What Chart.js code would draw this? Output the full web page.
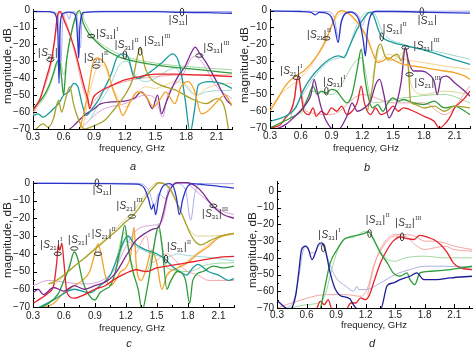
<!DOCTYPE html>
<html>
<head>
<meta charset="utf-8">
<script src="https://cdn.jsdelivr.net/npm/chart.js@4.4.1/dist/chart.umd.min.js"></script>
<style>
  body { margin: 0; width: 474px; height: 347px; position: relative; overflow: hidden; background: #fff;
         font-family: "Liberation Sans", Arial, sans-serif; color: #222; }
  canvas { position: absolute; }
  .yt { position: absolute; font-size: 10.5px; white-space: nowrap; transform: translate(-50%, -50%) rotate(-90deg) scaleX(1.12); }
  .xt { position: absolute; font-size: 9.6px; white-space: nowrap; transform: translate(-50%, -50%); }
  .pl { position: absolute; font-size: 11px; font-style: italic; transform: translate(-50%, -50%); }
</style>
</head>
<body>
<canvas id="pa" width="237" height="172" style="left:0;top:0"></canvas>
<canvas id="pb" width="237" height="172" style="left:237px;top:0"></canvas>
<canvas id="pc" width="237" height="175" style="left:0;top:172px"></canvas>
<canvas id="pd" width="237" height="175" style="left:237px;top:172px"></canvas>

<div class="yt" style="left:7px;top:66px">magnitude, dB</div>
<div class="xt" style="left:132px;top:147px">frequency, GHz</div>
<div class="pl" style="left:133px;top:166px">a</div>
<div class="yt" style="left:244px;top:65px">magnitude, dB</div>
<div class="xt" style="left:366px;top:147px">frequency, GHz</div>
<div class="pl" style="left:367px;top:167px">b</div>
<div class="yt" style="left:7px;top:240px">magnitude, dB</div>
<div class="xt" style="left:132px;top:327px">frequency, GHz</div>
<div class="pl" style="left:129px;top:343px">c</div>
<div class="yt" style="left:252px;top:250px">magnitude, dB</div>
<div class="xt" style="left:374px;top:324px">frequency, GHz</div>
<div class="pl" style="left:372px;top:343px">d</div>

<script>
// ---- data: [frequency GHz, magnitude dB] ----

// a: measured
var aS11 = [[0.3,-0.5],[0.45,-0.6],[0.5,-1.2],[0.53,-4],[0.545,-15],[0.555,-43],[0.565,-12],[0.58,-3],[0.6,-1.5],[0.65,-0.8],[0.7,-1.5],[0.725,-6],[0.74,-20],[0.748,-28],[0.757,-12],[0.775,-3],[0.8,-1],[1.0,-0.5],[1.5,-0.6],[1.75,-1],[2.0,-1.2],[2.25,-1.5]];
var aS21I = [[0.3,-59],[0.37,-52],[0.43,-40],[0.48,-29],[0.51,-18],[0.535,-5],[0.55,-1],[0.565,-0.5],[0.58,-2],[0.61,-6.5],[0.66,-14],[0.71,-23],[0.76,-35],[0.81,-47],[0.84,-53],[0.855,-58],[0.89,-51.5],[0.95,-48],[1.08,-44],[1.2,-41],[1.35,-39],[1.5,-37.5],[1.7,-37.5],[1.9,-38],[2.1,-38.5],[2.25,-39]];
var aS31I = [[0.3,-58],[0.4,-51],[0.46,-44],[0.5,-37],[0.53,-31],[0.56,-29],[0.58,-40],[0.6,-50],[0.615,-40],[0.63,-29],[0.68,-12],[0.72,-3],[0.755,0],[0.79,-7],[0.84,-13],[0.9,-17],[1.0,-22.5],[1.13,-27],[1.3,-30],[1.6,-33],[1.95,-35],[2.25,-37]];
var aS21II = [[0.75,-72],[0.8,-60],[0.84,-48],[0.87,-36],[0.9,-29],[0.93,-28],[0.97,-29],[1.0,-31],[1.03,-35],[1.08,-46],[1.13,-54],[1.18,-62],[1.22,-58],[1.27,-52],[1.32,-48],[1.4,-50],[1.48,-57],[1.55,-52],[1.6,-48],[1.69,-55],[1.75,-45],[1.82,-42],[1.88,-47],[1.95,-61],[2.02,-59],[2.1,-54],[2.18,-50],[2.25,-56]];
var aS21III = [[0.3,-72],[0.4,-67],[0.45,-69],[0.5,-64],[0.55,-53],[0.58,-60],[0.62,-52],[0.66,-45],[0.7,-56],[0.75,-65],[0.8,-70],[0.9,-68],[1.0,-65],[1.1,-58],[1.2,-50],[1.28,-40],[1.32,-28],[1.35,-22],[1.37,-26],[1.4,-34],[1.45,-40],[1.55,-44],[1.7,-47],[1.85,-52],[2.0,-55],[2.1,-52],[2.18,-58],[2.22,-72]];
var aS31II = [[0.3,-62],[0.35,-61],[0.4,-63],[0.45,-61],[0.5,-58],[0.55,-55],[0.6,-50],[0.65,-48],[0.7,-43],[0.74,-45],[0.78,-55],[0.82,-62],[0.88,-58],[0.95,-52],[1.0,-46],[1.07,-37],[1.12,-28],[1.18,-25.5],[1.23,-27],[1.28,-38],[1.33,-40],[1.43,-37],[1.56,-31],[1.67,-25.5],[1.74,-33],[1.79,-52],[1.84,-72],[1.88,-60],[1.92,-44],[2.03,-42],[2.15,-43],[2.25,-46]];
var aS31III = [[0.62,-72],[0.7,-68],[0.8,-62],[0.9,-58],[0.95,-55.5],[1.07,-54],[1.2,-53.5],[1.3,-51.5],[1.36,-48],[1.42,-52],[1.47,-58],[1.52,-50],[1.56,-61],[1.6,-55],[1.66,-46],[1.73,-38],[1.79,-33],[1.85,-25],[1.89,-21.5],[1.93,-25],[2.0,-31],[2.1,-42],[2.2,-53],[2.25,-56]];
// a: simulated
var aS11s = [[0.3,-0.3],[0.52,-1],[0.55,-6],[0.575,-30],[0.59,-8],[0.62,-1],[0.64,-3],[0.655,-5],[0.67,-2],[0.7,-0.5],[0.73,-3],[0.765,-22],[0.78,-5],[0.82,-1],[1.0,-0.3],[2.25,-0.5]];
var aS21Is = [[0.3,-62],[0.4,-47],[0.48,-31],[0.52,-15],[0.55,-3],[0.58,-0.5],[0.62,-6],[0.68,-18],[0.74,-33],[0.8,-48],[0.86,-56],[0.92,-52],[1.0,-47],[1.2,-42],[1.5,-39],[1.8,-38],[2.25,-38]];
var aS31Is = [[0.3,-60],[0.45,-47],[0.53,-33],[0.57,-30],[0.6,-38],[0.64,-25],[0.7,-8],[0.76,-1],[0.82,-8],[0.9,-16],[1.0,-21],[1.2,-27],[1.5,-31],[1.8,-33],[2.25,-35]];
var aS21IIs = [[0.78,-72],[0.85,-50],[0.9,-38],[0.95,-32],[1.0,-33],[1.05,-40],[1.1,-48],[1.2,-57],[1.3,-50],[1.4,-45],[1.5,-46],[1.6,-44],[1.7,-42],[1.8,-44],[1.9,-50],[2.0,-46],[2.1,-44],[2.25,-43]];
var aS31IIs = [[0.85,-65],[0.95,-55],[1.05,-45],[1.15,-32],[1.22,-30],[1.3,-38],[1.4,-42],[1.5,-40],[1.6,-36],[1.7,-34],[1.8,-45],[1.9,-50],[2.0,-48],[2.25,-47]];
var aS31IIIs = [[0.8,-68],[0.9,-62],[1.0,-58],[1.2,-55],[1.4,-50],[1.5,-52],[1.57,-63],[1.62,-50],[1.75,-40],[1.88,-27],[1.95,-30],[2.1,-45],[2.25,-52]];

// b: measured
var bS11 = [[0.3,-0.3],[0.6,-0.5],[0.7,-1],[0.74,-2.5],[0.78,-1],[0.85,-1.5],[0.9,-4],[0.93,-10],[0.965,-19],[0.99,-8],[1.03,-2],[1.08,-0.8],[1.12,-1.5],[1.17,-6],[1.21,-18],[1.23,-27],[1.25,-12],[1.28,-3],[1.33,-0.5],[1.5,-0.5],[1.85,-1],[2.25,-1.5]];
var bS21II = [[0.3,-60],[0.36,-54],[0.46,-44],[0.55,-39],[0.63,-36],[0.72,-30],[0.79,-24],[0.85,-17],[0.9,-9],[0.95,-2],[1.0,0],[1.05,-1],[1.1,-3.5],[1.18,-9],[1.25,-16.5],[1.3,-25],[1.35,-31],[1.4,-30],[1.45,-28],[1.52,-30],[1.6,-32],[1.7,-33],[1.8,-34],[1.9,-35],[2.0,-36],[2.1,-37],[2.2,-39],[2.25,-41]];
var bS31II = [[0.3,-66],[0.45,-63],[0.55,-58],[0.62,-48],[0.7,-40],[0.8,-33],[0.88,-29],[0.97,-27],[1.02,-28],[1.07,-22],[1.15,-11],[1.22,-4],[1.27,-1],[1.31,-3],[1.36,-12],[1.39,-15.5],[1.5,-19],[1.63,-21],[1.83,-24],[2.03,-28],[2.25,-32]];
var bS31III = [[0.3,-72],[0.45,-68],[0.56,-62],[0.66,-55],[0.7,-50],[0.73,-41],[0.76,-48],[0.8,-58],[0.85,-66],[0.95,-72],[1.05,-63],[1.1,-55],[1.15,-60],[1.22,-58],[1.28,-54],[1.33,-44],[1.37,-41],[1.41,-50],[1.46,-64],[1.5,-60],[1.54,-54],[1.58,-42],[1.62,-22],[1.65,-30],[1.7,-36],[1.78,-36],[1.85,-38],[1.9,-42],[1.93,-50],[1.97,-40],[2.02,-39],[2.1,-43],[2.18,-47],[2.25,-51]];
var bS21III = [[1.25,-60],[1.3,-45],[1.34,-25],[1.38,-20],[1.42,-27],[1.46,-29],[1.5,-27],[1.54,-26],[1.58,-30],[1.62,-22],[1.65,-35],[1.67,-54],[1.72,-56],[1.8,-58],[1.9,-57],[2.0,-60],[2.1,-57],[2.25,-58]];
var bS31I = [[0.3,-70],[0.4,-67],[0.5,-64],[0.6,-60],[0.67,-52],[0.72,-45],[0.76,-50],[0.8,-48],[0.85,-49],[0.9,-47],[0.95,-48],[1.0,-52],[1.05,-55],[1.1,-50],[1.15,-35],[1.19,-23],[1.22,-38],[1.26,-52],[1.3,-58],[1.35,-56],[1.4,-60],[1.45,-55],[1.5,-52],[1.55,-54],[1.6,-53],[1.7,-55],[1.8,-56],[1.9,-54],[2.0,-58],[2.1,-57],[2.2,-60],[2.25,-62]];
var bS21I = [[0.3,-70],[0.4,-68],[0.45,-64],[0.5,-60],[0.54,-52],[0.56,-42],[0.58,-39],[0.6,-48],[0.63,-60],[0.68,-62],[0.72,-58],[0.75,-63],[0.8,-60],[0.85,-62],[0.9,-58],[0.95,-60],[1.0,-57],[1.05,-62],[1.1,-60],[1.15,-55],[1.19,-45],[1.22,-55],[1.28,-62],[1.33,-58],[1.38,-62],[1.45,-60],[1.5,-57],[1.55,-60],[1.6,-58],[1.7,-60],[1.8,-63],[1.9,-66],[1.95,-70],[2.0,-68],[2.05,-64],[2.1,-58],[2.15,-55],[2.2,-52],[2.25,-48]];
// b: simulated
var bS11s = [[0.3,-0.2],[0.85,-0.5],[0.92,-3],[0.97,-16],[1.0,-6],[1.05,-1],[1.12,-1],[1.17,-4],[1.2,-9],[1.23,-4],[1.27,-1],[1.35,-0.3],[2.25,-0.3]];
var bS21IIs = [[0.3,-58],[0.4,-50],[0.5,-45],[0.6,-40],[0.7,-33],[0.8,-22],[0.88,-12],[0.95,-4],[1.02,-1],[1.1,-3],[1.2,-12],[1.28,-22],[1.35,-30],[1.45,-26],[1.6,-29],[1.8,-31],[2.0,-33],[2.25,-35]];
var bS31IIs = [[0.5,-62],[0.62,-50],[0.75,-38],[0.88,-30],[0.98,-28],[1.05,-25],[1.15,-8],[1.25,-1],[1.32,-2],[1.4,-13],[1.6,-20],[1.9,-24],[2.25,-29]];
var bS21IIIs = [[1.3,-40],[1.38,-22],[1.45,-30],[1.54,-28],[1.62,-24],[1.68,-45],[1.8,-50],[2.0,-48],[2.25,-50]];
var bS21Is = [[0.5,-65],[0.58,-42],[0.65,-60],[0.9,-62],[1.2,-50],[1.5,-55],[1.8,-55],[2.0,-62],[2.25,-45]];
var bS31Is = [[0.6,-62],[0.72,-48],[0.9,-50],[1.19,-28],[1.3,-55],[1.6,-52],[2.0,-50],[2.25,-55]];

// c: measured
var cS11 = [[0.3,-0.3],[1.0,-0.5],[1.3,-0.8],[1.38,-3],[1.42,-9],[1.45,-15],[1.47,-12],[1.49,-18],[1.52,-8],[1.56,-2],[1.62,-0.5],[1.66,-2],[1.69,-8],[1.72,-18],[1.75,-10],[1.79,-3],[1.85,-0.5],[1.95,-1],[2.1,-2],[2.25,-3]];
var cS21III = [[0.45,-57],[0.5,-56],[0.62,-51],[0.72,-46],[0.82,-41.5],[0.95,-35],[1.05,-30],[1.11,-27],[1.2,-22],[1.26,-19],[1.32,-15],[1.37,-10.5],[1.42,-6],[1.47,-2.5],[1.52,0],[1.57,-0.5],[1.63,-3.3],[1.69,-10.5],[1.76,-19.7],[1.82,-28],[1.88,-33.5],[1.93,-35],[2.02,-32.5],[2.12,-30],[2.25,-28.5]];
var cS31III = [[0.3,-62],[0.35,-60],[0.4,-63],[0.5,-59],[0.6,-61],[0.7,-58],[0.8,-60],[0.9,-58],[1.0,-56],[1.1,-51],[1.2,-41.5],[1.3,-32.5],[1.4,-28],[1.47,-26],[1.52,-25],[1.56,-18],[1.6,-8],[1.65,-2],[1.7,0],[1.8,0],[1.88,-2],[1.95,-6],[2.0,-10],[2.05,-13.5],[2.15,-18],[2.25,-20]];
var cS21I = [[0.3,-68],[0.38,-65],[0.45,-62],[0.5,-58],[0.53,-45],[0.545,-35],[0.56,-38],[0.58,-34],[0.6,-45],[0.63,-62],[0.7,-65],[0.8,-63],[0.9,-60],[1.0,-58],[1.1,-54],[1.2,-51],[1.3,-49],[1.4,-50],[1.5,-48],[1.6,-47],[1.7,-46],[1.8,-45],[1.9,-44],[2.0,-43],[2.1,-42],[2.25,-41.5]];
var cS31I = [[0.3,-72],[0.45,-68],[0.55,-62],[0.6,-55],[0.65,-48],[0.7,-39],[0.73,-42],[0.78,-55],[0.83,-62],[0.9,-66],[0.95,-62],[1.0,-60],[1.05,-58],[1.1,-50],[1.15,-36],[1.19,-24],[1.22,-35],[1.27,-50],[1.32,-60],[1.36,-72],[1.4,-62],[1.45,-45],[1.49,-30],[1.52,-24],[1.55,-35],[1.6,-60],[1.63,-56],[1.7,-50],[1.78,-55],[1.82,-68],[1.85,-55],[1.95,-50],[2.05,-47],[2.15,-48],[2.25,-47]];
var cS31II = [[0.3,-72],[0.5,-66],[0.7,-60],[0.85,-62],[0.95,-58],[1.05,-52],[1.12,-42],[1.18,-33],[1.22,-30],[1.28,-34],[1.4,-38],[1.5,-40],[1.58,-43],[1.65,-47],[1.72,-50],[1.79,-52],[1.85,-48],[1.9,-46],[2.0,-50],[2.1,-52],[2.2,-55],[2.25,-54]];
var cS21II = [[0.3,-72],[0.5,-68],[0.6,-62],[0.7,-58],[0.78,-55],[0.85,-50],[0.9,-40],[0.93,-34.5],[0.96,-40],[1.0,-52],[1.05,-58],[1.1,-55],[1.15,-50],[1.2,-48],[1.25,-40],[1.28,-25],[1.3,-45],[1.35,-55],[1.4,-48],[1.45,-38],[1.5,-45],[1.55,-60],[1.6,-52],[1.7,-48],[1.8,-45],[1.9,-40],[2.0,-36],[2.1,-31],[2.2,-29],[2.25,-28.5]];
// c: simulated
var cS11s = [[0.3,-0.2],[1.3,-0.3],[1.42,-4],[1.48,-13],[1.52,-6],[1.56,-8],[1.59,-9],[1.62,-2],[1.7,-0.5],[1.78,-4],[1.83,-21],[1.87,-6],[1.92,-0.5],[2.25,-0.5]];
var cS21IIIs = [[0.5,-58],[0.8,-42],[1.1,-26],[1.3,-14],[1.45,-2],[1.5,0],[1.6,-2],[1.7,-12],[1.8,-25],[1.9,-30],[2.0,-30],[2.25,-29]];
var cS31IIIs = [[0.3,-58],[0.45,-55],[0.6,-56],[0.8,-57],[1.0,-54],[1.1,-48],[1.2,-36],[1.3,-27],[1.45,-24],[1.55,-22],[1.62,-5],[1.68,0],[1.78,0],[1.85,-3],[1.95,-8],[2.1,-15],[2.25,-18]];
var cS31IIs = [[1.1,-50],[1.2,-33],[1.3,-36],[1.45,-40],[1.6,-42],[1.7,-40],[1.8,-41],[2.0,-42],[2.25,-44]];
var cS21Is = [[1.3,-40],[1.4,-30],[1.45,-45],[1.6,-40],[1.7,-45],[1.8,-50],[1.9,-52],[2.0,-55],[2.25,-55]];
var cS21IIs = [[1.6,-60],[1.7,-50],[1.8,-44],[1.95,-37],[2.1,-31],[2.25,-29]];
var cS31Is = [[1.1,-45],[1.19,-28],[1.25,-45],[1.4,-50],[1.52,-27],[1.6,-48],[1.8,-50],[2.0,-46],[2.25,-45]];

// d: measured
var dS31I = [[0.3,-65.5],[0.43,-71],[0.49,-62.5],[0.52,-49],[0.55,-35],[0.59,-33],[0.62,-35],[0.655,-41],[0.69,-37],[0.72,-32],[0.755,-31],[0.79,-35],[0.84,-49],[0.89,-58.5],[0.94,-62.5],[1.04,-64.5],[1.07,-67.5],[1.13,-71],[1.35,-71],[1.42,-56.5],[1.48,-55],[1.55,-53],[1.65,-51],[1.72,-49],[1.79,-53],[1.92,-53],[2.06,-52],[2.28,-51]];
var dS21II = [[0.74,-71],[0.79,-56.5],[0.84,-43],[0.91,-35],[0.98,-29],[1.04,-27.5],[1.11,-26.5],[1.18,-25.5],[1.23,-24.5],[1.28,-29],[1.35,-37],[1.42,-43],[1.48,-49],[1.55,-51],[1.62,-49],[1.65,-53],[1.7,-56],[1.75,-49],[1.86,-48],[2.06,-47],[2.28,-45]];
var dS32III = [[0.7,-71],[0.74,-66],[0.78,-68],[0.82,-65],[0.86,-71],[1.0,-71],[1.05,-67],[1.1,-67],[1.15,-64],[1.2,-65],[1.24,-62],[1.28,-55],[1.35,-43],[1.42,-35],[1.48,-30],[1.55,-27.5],[1.62,-28.5],[1.69,-29],[1.75,-26.5],[1.82,-27.5],[1.89,-29],[1.96,-32],[2.03,-37],[2.09,-43],[2.16,-46],[2.28,-47]];
// d: simulated
var dS31Is = [[0.3,-71],[0.45,-68],[0.52,-52],[0.56,-37],[0.6,-33],[0.64,-37],[0.68,-37],[0.72,-33],[0.76,-32],[0.8,-38],[0.85,-46],[0.9,-52],[1.0,-57],[1.08,-60],[1.11,-57],[1.13,-59],[1.2,-59],[1.35,-55],[1.5,-50],[1.65,-47],[1.8,-45],[2.0,-45],[2.28,-45.5]];
var dS21IIs = [[0.3,-72],[0.6,-68],[0.75,-66],[0.8,-60],[0.85,-48],[0.92,-35],[1.0,-28],[1.05,-28],[1.1,-27],[1.2,-24],[1.26,-26],[1.32,-33],[1.4,-40],[1.5,-42],[1.6,-40],[1.8,-39],[2.0,-40],[2.28,-40]];
var dS32IIIs = [[0.3,-70],[0.5,-66],[0.8,-62],[1.0,-62],[1.15,-63],[1.22,-58],[1.28,-45],[1.35,-36],[1.42,-30],[1.5,-27],[1.6,-27],[1.7,-32],[1.8,-35],[1.9,-34],[2.0,-33],[2.1,-35],[2.28,-36]];
var dS32IIIs2 = [[1.22,-62],[1.3,-42],[1.4,-30],[1.5,-26],[1.6,-26],[1.7,-27],[1.8,-30],[1.9,-30],[2.0,-31],[2.1,-33],[2.28,-35]];

// ---- colours ----
var C = {
  blue: '#2b36c9', blueL: '#aaa9ee', navy: '#1c1c96', navyL: '#aab0e2',
  red: '#e8222a', redL: '#f4a4a4', green: '#2f9c3c', greenL: '#a3d7a0',
  orange: '#f3a22a', orangeL: '#f7cf92', teal: '#1b9a9a', tealL: '#9dd6d2',
  purple: '#7b2c8f', purpleL: '#d9a2dc', olive: '#a9a22a', oliveL: '#d9d594'
};

function line(pts, col, light) {
  return { pts: pts, c: col, light: !!light };
}

// |S_ij|^n label
function drawS(ctx, x, y, sub, sup) {
  ctx.save();
  ctx.fillStyle = '#333';
  ctx.textBaseline = 'middle';
  ctx.font = '10px "Liberation Sans"';
  ctx.fillText('|', x, y); x += ctx.measureText('|').width + 0.5;
  ctx.font = 'italic 10px "Liberation Sans"';
  ctx.fillText('S', x, y); x += ctx.measureText('S').width;
  ctx.font = '6px "Liberation Sans"';
  ctx.fillText(sub, x, y + 3); x += ctx.measureText(sub).width + 0.5;
  ctx.font = '10px "Liberation Sans"';
  ctx.fillText('|', x, y); x += ctx.measureText('|').width;
  if (sup) {
    ctx.font = '6px "Liberation Serif"';
    ctx.fillText(sup, x + 0.5, y - 5);
  }
  ctx.restore();
}

var notesPlugin = {
  id: 'notes',
  afterDatasetsDraw: function(chart, args, opts) {
    var ctx = chart.ctx, x = chart.scales.x, y = chart.scales.y;
    (opts.items || []).forEach(function(n) {
      var ox = x.getPixelForValue(n.at[0]), oy = y.getPixelForValue(n.at[1]);
      ctx.save();
      ctx.strokeStyle = '#333';
      ctx.lineWidth = 1;
      ctx.beginPath();
      ctx.ellipse(ox, oy, n.v ? 1.8 : 3.6, n.v ? 4 : 1.8, 0, 0, Math.PI * 2);
      ctx.stroke();
      ctx.restore();
      drawS(ctx, x.getPixelForValue(n.tx[0]), y.getPixelForValue(n.tx[1]), n.sub, n.sup);
    });
  }
};

// short ticks pointing into the plot
var inTicks = {
  id: 'inTicks',
  afterDraw: function(chart) {
    var ctx = chart.ctx, a = chart.chartArea, x = chart.scales.x, y = chart.scales.y;
    ctx.save();
    ctx.strokeStyle = '#000';
    ctx.lineWidth = 1;
    ctx.beginPath();
    for (var i = 0; 0.3 + i * 0.15 <= x.max + 1e-9; i++) {
      var px = Math.round(x.getPixelForValue(0.3 + i * 0.15)) + 0.5;
      ctx.moveTo(px, a.bottom);
      ctx.lineTo(px, a.bottom - (i % 2 ? 2 : 4));
    }
    for (var v = -70; v <= y.max; v += 5) {
      var py = Math.round(y.getPixelForValue(v)) + 0.5;
      ctx.moveTo(a.left, py);
      ctx.lineTo(a.left + (v % 10 ? 2 : 4), py);
    }
    ctx.stroke();
    ctx.restore();
  }
};

function panel(id, series, items, o) {
  var font = { family: '"Liberation Sans", Arial, sans-serif', size: 10 };
  return new Chart(document.getElementById(id), {
    type: 'line',
    data: {
      datasets: series.map(function(s) {
        return {
          data: s.pts.map(function(p) { return { x: p[0], y: p[1] }; }),
          borderColor: s.c,
          borderWidth: s.light ? 1 : 1.3,
          pointRadius: 0,
          fill: false,
          cubicInterpolationMode: 'monotone',
          order: s.light ? 2 : 1
        };
      })
    },
    options: {
      responsive: false,
      animation: false,
      events: [],
      layout: { padding: o.pad },
      plugins: { legend: { display: false }, tooltip: { enabled: false }, notes: { items: items } },
      scales: {
        x: {
          type: 'linear', min: 0.3, max: o.xmax,
          grid: { display: false, drawTicks: false },
          border: { display: true, color: '#000', width: 1 },
          ticks: { stepSize: 0.3, includeBounds: false, autoSkip: false, maxRotation: 0, padding: o.xpad,
                   color: '#222', font: font, callback: function(v) { return v.toFixed(1); } },
          afterFit: function(s) { s.height = o.xh; }
        },
        y: {
          min: -70, max: o.ymax,
          grid: { display: false, drawTicks: false },
          border: { display: true, color: '#000', width: 1 },
          ticks: { stepSize: 10, includeBounds: false, padding: 3, color: '#222', font: font,
                   callback: function(v) { return v === 0 ? '0' : '\u2212' + Math.abs(v); } },
          afterFit: function(s) { s.width = o.yw; }
        }
      }
    },
    plugins: [inTicks, notesPlugin]
  });
}

panel('pa', [
  line(aS11, C.blue), line(aS21I, C.red), line(aS31I, C.green), line(aS21II, C.orange),
  line(aS21III, C.olive), line(aS31II, C.teal), line(aS31III, C.purple),
  line(aS11s, C.blueL, 1), line(aS21Is, C.redL, 1), line(aS31Is, C.greenL, 1), line(aS21IIs, C.orangeL, 1),
  line(aS31IIs, C.tealL, 1), line(aS31IIIs, C.purpleL, 1)
], [
  { sub: '11', sup: '', tx: [1.63, -5.6], at: [1.76, -0.8], v: true },
  { sub: '31', sup: 'I', tx: [0.92, -14], at: [0.87, -15], v: false },
  { sub: '21', sup: 'I', tx: [0.35, -25], at: [0.47, -29], v: false },
  { sub: '21', sup: 'II', tx: [0.8, -28], at: [0.92, -33], v: false },
  { sub: '31', sup: 'II', tx: [1.1, -20.6], at: [1.2, -26], v: true },
  { sub: '21', sup: 'III', tx: [1.39, -18], at: [1.35, -24], v: true },
  { sub: '31', sup: 'III', tx: [1.97, -22.5], at: [1.93, -26.5], v: false }
], { xmax: 2.25, ymax: 1, yw: 33, xh: 43, xpad: 2, pad: { left: 0, right: 5, top: 3, bottom: 0 } });

panel('pb', [
  line(bS11, C.blue), line(bS21II, C.orange), line(bS31II, C.teal), line(bS31III, C.purple),
  line(bS21III, C.olive), line(bS31I, C.green), line(bS21I, C.red),
  line(bS11s, C.blueL, 1), line(bS21IIs, C.orangeL, 1), line(bS31IIs, C.tealL, 1),
  line(bS21IIIs, C.oliveL, 1), line(bS21Is, C.redL, 1), line(bS31Is, C.greenL, 1)
], [
  { sub: '11', sup: '', tx: [1.74, -6], at: [1.78, -0.5], v: true },
  { sub: '21', sup: 'II', tx: [0.66, -14.6], at: [0.85, -16.5], v: false },
  { sub: '31', sup: 'II', tx: [1.4, -11], at: [1.39, -15.6], v: true },
  { sub: '31', sup: 'III', tx: [1.7, -21], at: [1.62, -22], v: false },
  { sub: '21', sup: 'I', tx: [0.4, -36], at: [0.56, -40], v: false },
  { sub: '31', sup: 'I', tx: [0.82, -43], at: [0.85, -48], v: true },
  { sub: '21', sup: 'III', tx: [1.71, -43.5], at: [1.66, -38], v: false }
], { xmax: 2.25, ymax: 1, yw: 33, xh: 44, xpad: 2, pad: { left: 0, right: 4, top: 2, bottom: 0 } });

panel('pc', [
  line(cS11, C.blue), line(cS21III, C.olive), line(cS31III, C.purple), line(cS21I, C.red),
  line(cS31I, C.green), line(cS31II, C.teal), line(cS21II, C.orange),
  line(cS11s, C.blueL, 1), line(cS21IIIs, C.oliveL, 1), line(cS31IIIs, C.purpleL, 1),
  line(cS31IIs, C.tealL, 1), line(cS21Is, C.redL, 1), line(cS21IIs, C.orangeL, 1), line(cS31Is, C.greenL, 1)
], [
  { sub: '11', sup: '', tx: [0.88, -4], at: [0.92, 0], v: true },
  { sub: '21', sup: 'III', tx: [1.11, -13], at: [1.26, -19], v: false },
  { sub: '21', sup: 'II', tx: [0.87, -29], at: [0.93, -40], v: false },
  { sub: '31', sup: 'I', tx: [0.64, -32.5], at: [0.7, -37], v: false },
  { sub: '21', sup: 'I', tx: [0.37, -35], at: [0.54, -40], v: false },
  { sub: '31', sup: 'II', tx: [1.6, -36.5], at: [1.59, -43], v: true },
  { sub: '31', sup: 'III', tx: [1.94, -18], at: [2.05, -13], v: false }
], { xmax: 2.25, ymax: 1, yw: 33, xh: 40, xpad: 3, pad: { left: 0, right: 3, top: 5, bottom: 0 } });

panel('pd', [
  line(dS31I, C.navy), line(dS21II, C.green), line(dS32III, C.red),
  line(dS31Is, C.navyL, 1), line(dS21IIs, C.greenL, 1), line(dS32IIIs, C.redL, 1), line(dS32IIIs2, C.redL, 1)
], [
  { sub: '31', sup: 'I', tx: [0.72, -26.4], at: [0.77, -34], v: true },
  { sub: '21', sup: 'II', tx: [1.2, -17.6], at: [1.24, -25.4], v: true },
  { sub: '32', sup: 'III', tx: [1.5, -19.5], at: [1.57, -27.4], v: true }
], { xmax: 2.28, ymax: 6, yw: 40, xh: 39, xpad: 1, pad: { left: 0, right: 2, top: 7, bottom: 0 } });
</script>
</body>
</html>
